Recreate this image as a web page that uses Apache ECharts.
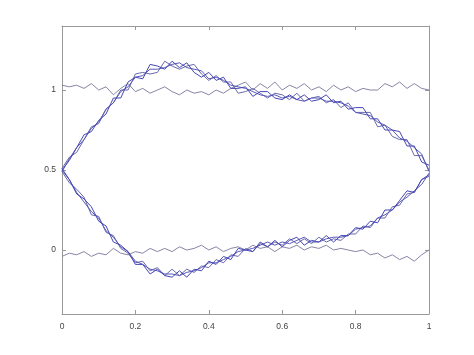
<!DOCTYPE html>
<html>
<head>
<meta charset="utf-8">
<script src="https://cdn.jsdelivr.net/npm/echarts@6/dist/echarts.min.js"></script>
<style>html,body{margin:0;padding:0;background:#fff}#c{width:474px;height:355px}</style>
</head>
<body>
<div id="c"></div>
<script>
var xs = [0,0.02,0.04,0.06,0.08,0.10,0.12,0.14,0.16,0.18,
  0.20,0.22,0.24,0.26,0.28,0.30,0.32,0.34,0.36,0.38,
  0.40,0.42,0.44,0.46,0.48,0.50,0.52,0.54,0.56,0.58,
  0.60,0.62,0.64,0.66,0.68,0.70,0.72,0.74,0.76,0.78,
  0.80,0.82,0.84,0.86,0.88,0.90,0.92,0.94,0.96,0.98,1.00];

var upperA = [0.50,0.56,0.64,0.72,0.74,0.81,0.85,0.95,0.95,1.05,
  1.08,1.07,1.16,1.15,1.13,1.18,1.14,1.17,1.11,1.08,
  1.11,1.06,1.08,1.01,1.01,1.02,0.96,0.99,0.99,0.95,
  0.94,0.97,0.94,0.97,0.93,0.94,0.97,0.92,0.93,0.88,
  0.89,0.89,0.82,0.82,0.75,0.75,0.74,0.65,0.65,0.55,0.53];
var upperB = [0.51,0.58,0.61,0.69,0.77,0.79,0.88,0.92,1.00,1.00,
  1.10,1.11,1.10,1.11,1.18,1.15,1.13,1.15,1.16,1.10,
  1.06,1.09,1.05,1.05,0.98,0.99,1.01,0.98,0.95,0.98,
  0.97,0.94,0.98,0.93,0.95,0.96,0.92,0.94,0.89,0.92,
  0.86,0.86,0.86,0.77,0.78,0.71,0.69,0.69,0.59,0.59,0.50];
var upperC = [0.49,0.57,0.64,0.69,0.76,0.80,0.88,0.92,0.99,1.02,
  1.08,1.09,1.13,1.13,1.14,1.16,1.17,1.14,1.13,1.12,
  1.07,1.08,1.06,1.03,1.02,1.01,0.99,0.97,0.96,0.97,
  0.95,0.96,0.94,0.93,0.95,0.95,0.93,0.93,0.92,0.90,
  0.86,0.85,0.84,0.80,0.78,0.75,0.70,0.68,0.64,0.60,0.49];
var upperFlat = [1.03,1.02,1.03,1.01,1.04,1.00,1.02,0.97,1.01,1.04,
  0.99,1.01,0.98,1.00,1.02,0.99,0.97,1.00,0.98,0.99,
  0.97,1.00,0.98,1.01,1.03,1.05,1.00,1.04,1.01,1.05,
  1.00,1.03,1.01,1.04,1.00,1.02,0.99,1.03,1.00,1.02,
  0.99,1.01,1.00,1.00,1.04,1.02,1.05,1.01,1.04,1.01,1.00];
var lowerA = [0.50,0.44,0.35,0.32,0.27,0.18,0.15,0.05,0.03,-0.01,
  -0.09,-0.09,-0.15,-0.12,-0.16,-0.17,-0.13,-0.17,-0.12,-0.13,
  -0.07,-0.09,-0.04,-0.06,0.01,0.00,-0.01,0.05,0.02,0.06,
  0.02,0.06,0.08,0.03,0.06,0.05,0.09,0.05,0.09,0.09,
  0.14,0.13,0.18,0.17,0.25,0.25,0.31,0.37,0.36,0.44,0.47];
var lowerB = [0.49,0.42,0.38,0.33,0.22,0.21,0.11,0.09,0.01,-0.02,
  -0.08,-0.07,-0.13,-0.11,-0.16,-0.12,-0.16,-0.12,-0.14,-0.10,
  -0.11,-0.06,-0.08,-0.03,-0.04,0.01,-0.01,0.04,0.02,0.05,
  0.03,0.07,0.04,0.07,0.04,0.08,0.05,0.07,0.06,0.10,
  0.10,0.15,0.14,0.20,0.20,0.27,0.28,0.35,0.36,0.44,0.46];
var lowerC = [0.51,0.44,0.36,0.30,0.24,0.20,0.12,0.08,0.02,-0.01,
  -0.07,-0.09,-0.12,-0.13,-0.15,-0.15,-0.16,-0.14,-0.13,-0.11,
  -0.08,-0.08,-0.06,-0.04,-0.01,0.00,0.01,0.03,0.05,0.03,
  0.05,0.04,0.06,0.08,0.05,0.05,0.07,0.08,0.08,0.09,
  0.13,0.14,0.15,0.20,0.22,0.25,0.30,0.33,0.37,0.41,0.48];
var lowerFlat = [-0.04,-0.02,-0.03,-0.01,-0.04,-0.02,-0.03,0.01,-0.02,-0.03,
  -0.01,-0.02,0.01,-0.01,0.01,-0.01,0.02,0.00,0.01,0.03,
  0.00,0.02,-0.01,0.01,0.02,0.00,0.03,0.01,0.02,-0.01,
  0.02,0.01,0.03,0.00,0.02,0.01,0.03,0.00,0.01,0.00,
  -0.01,0.00,-0.03,-0.02,-0.05,-0.03,-0.06,-0.04,-0.07,-0.03,0.00];

var xTicks = [0,0.2,0.4,0.6,0.8,1];
var yTicks = [0,0.5,1];

var seriesList = [
  {d: upperFlat, c: '#8686a6'},
  {d: lowerFlat, c: '#8686a6'},
  {d: upperB, c: '#6a6aac'},
  {d: lowerB, c: '#6a6aac'},
  {d: upperC, c: '#5858b8'},
  {d: lowerC, c: '#5858b8'},
  {d: upperA, c: '#4646b4'},
  {d: lowerA, c: '#4646b4'}
];

function pairs(arr){ return xs.map(function(x,i){ return [x, arr[i]]; }); }

var axisColor = '#999999';
var labelStyle = {color:'#444', fontSize:8.5, fontFamily:'Liberation Sans, Arial, sans-serif'};
function line(){ return {show:true, onZero:false, lineStyle:{color:axisColor, width:1}}; }
function tick(vals){ return {show:true, inside:true, length:4, customValues:vals, lineStyle:{color:axisColor}}; }

var chart = echarts.init(document.getElementById('c'), null, {renderer:'canvas'});
chart.setOption({
  animation:false,
  backgroundColor:'#ffffff',
  grid:{left:62, right:45, top:26, bottom:41},
  xAxis:[
    {type:'value', min:0, max:1, position:'bottom',
     axisLine:line(), axisTick:tick(xTicks),
     axisLabel:Object.assign({margin:8, customValues:xTicks, formatter:function(v){return String(v);}}, labelStyle),
     splitLine:{show:false}},
    {type:'value', min:0, max:1, position:'top',
     axisLine:line(), axisTick:tick(xTicks),
     axisLabel:{show:false}, splitLine:{show:false}}
  ],
  yAxis:[
    {type:'value', min:-0.4, max:1.4, position:'left',
     axisLine:line(), axisTick:tick(yTicks),
     axisLabel:Object.assign({margin:6, customValues:yTicks, formatter:function(v){return String(v);}}, labelStyle),
     splitLine:{show:false}},
    {type:'value', min:-0.4, max:1.4, position:'right',
     axisLine:line(), axisTick:tick(yTicks),
     axisLabel:{show:false}, splitLine:{show:false}}
  ],
  series: seriesList.map(function(s){
    return {type:'line', data:pairs(s.d), showSymbol:false, symbol:'none',
      lineStyle:{color:s.c, width:1}, itemStyle:{color:s.c}, xAxisIndex:0, yAxisIndex:0};
  })
});
</script>
</body>
</html>
